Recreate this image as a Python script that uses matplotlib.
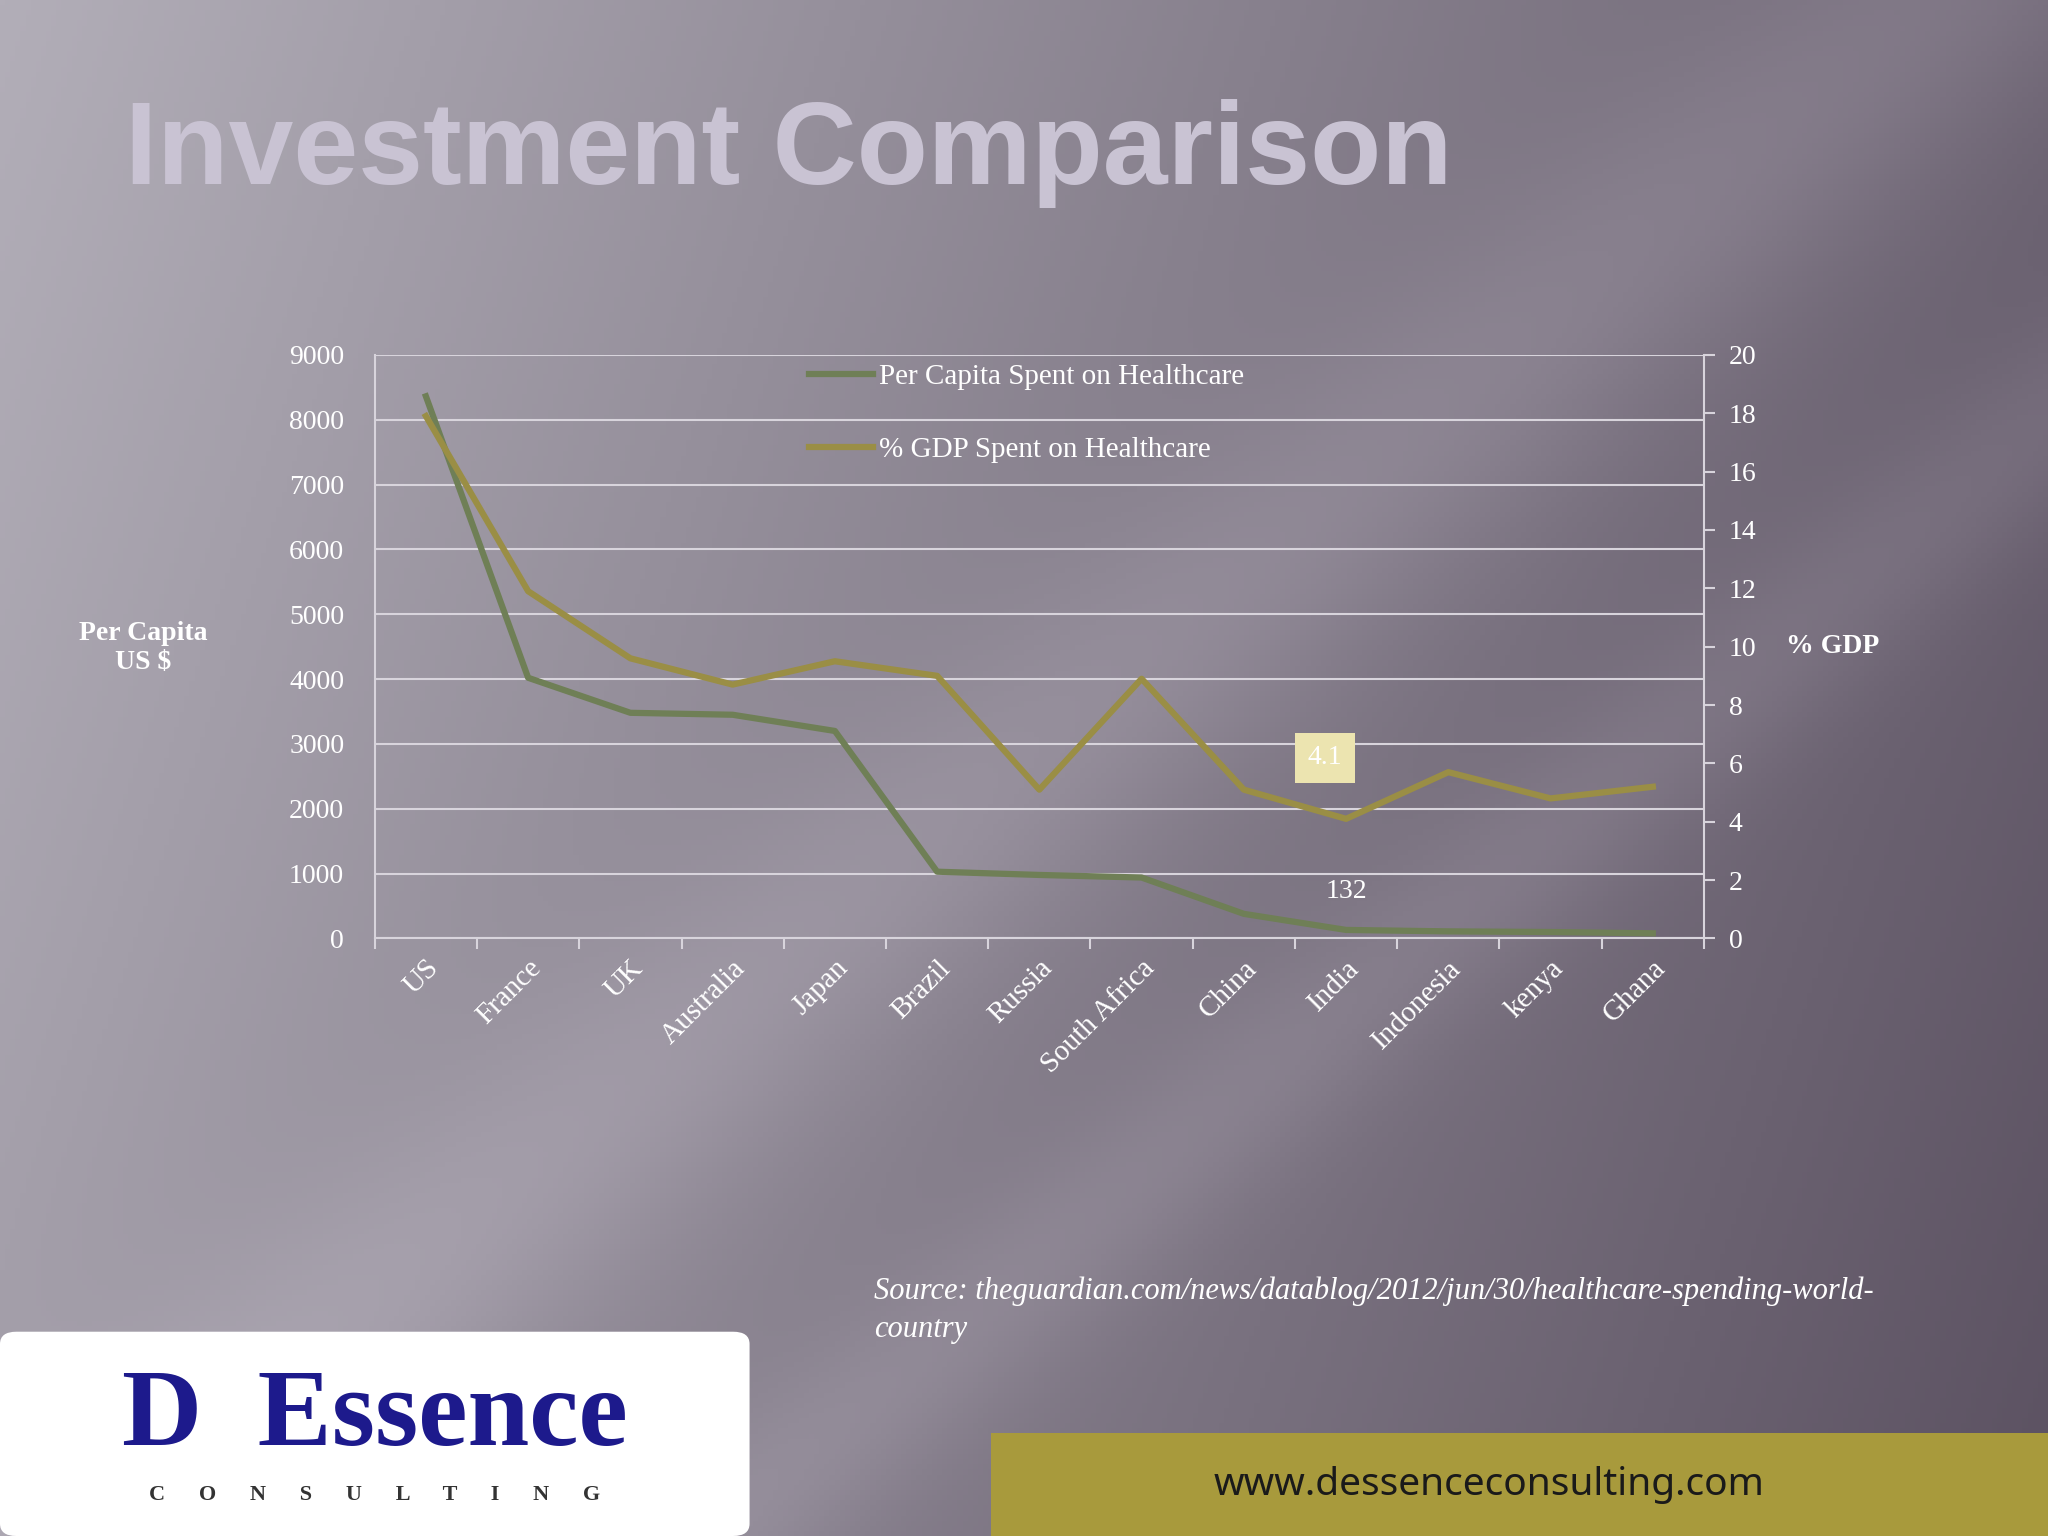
import numpy as np
import matplotlib
matplotlib.use("Agg")
import matplotlib.pyplot as plt
from matplotlib.patches import FancyBboxPatch, Rectangle

countries = ["US", "France", "UK", "Australia", "Japan", "Brazil", "Russia",
             "South Africa", "China", "India", "Indonesia", "kenya", "Ghana"]
per_capita = [8360, 4020, 3480, 3450, 3200, 1030, 980, 940, 380, 132, 110, 100, 80]
pct_gdp = [17.9, 11.9, 9.6, 8.7, 9.5, 9.0, 5.1, 8.9, 5.1, 4.1, 5.7, 4.8, 5.2]

fig = plt.figure(figsize=(20.48, 15.36), dpi=100)

bg = fig.add_axes([0, 0, 1, 1], zorder=-10)
bg.axis("off")
yy, xx = np.mgrid[0:1:300j, 0:1:400j]
t = np.clip(0.8 * xx + 0.2 * yy, 0, 1)
light = np.array([178, 174, 184]) / 255
dark = np.array([92, 82, 98]) / 255
img = light[None, None, :] * (1 - t[..., None]) + dark[None, None, :] * t[..., None]
ray = 0.06 * np.exp(-((xx - (1 - yy) * 0.9 - 0.05) ** 2) / 0.01)
ray += 0.05 * np.exp(-((xx - (1 - yy) * 0.9 - 0.35) ** 2) / 0.004)
img = np.clip(img + ray[..., None], 0, 1)
bg.imshow(img, extent=[0, 1, 0, 1], aspect="auto", origin="upper")
bg.set_xlim(0, 1); bg.set_ylim(0, 1)

fig.text(0.061, 0.900, "Investment Comparison", fontsize=84, fontweight="bold",
         color="#C9C3D3", va="center", ha="left", family="Liberation Sans")

serif = "Liberation Serif"
ax = fig.add_axes([0.183, 0.389, 0.649, 0.380])
ax.patch.set_alpha(0)
x = np.arange(len(countries))
green = "#6F7F56"
gold = "#9A8E45"
l1, = ax.plot(x, per_capita, color=green, lw=4.5, label="Per Capita Spent on Healthcare")
ax.set_ylim(0, 9000)
ax.set_xlim(-0.5, len(countries) - 0.5)
ax.set_yticks(range(0, 9001, 1000))
ax.grid(axis="y", color="#D8D4DC", lw=1.5)
ax.set_axisbelow(True)
for s in ["top", "right"]:
    ax.spines[s].set_visible(False)
ax.spines["left"].set_color("#D8D4DC")
ax.spines["bottom"].set_color("#D8D4DC")
ax.spines["left"].set_linewidth(1.5)
ax.spines["bottom"].set_linewidth(1.5)
ax.set_xticks(np.arange(-0.5, len(countries), 1), minor=True)
ax.set_xticks(x)
ax.set_xticklabels(countries, rotation=45, ha="right", rotation_mode="anchor",
                   fontsize=21, color="white", family=serif)
ax.tick_params(axis="x", which="major", length=0, pad=12)
ax.tick_params(axis="x", which="minor", length=8, color="#D8D4DC", width=1.5)
ax.tick_params(axis="y", labelsize=20, labelcolor="white", color="#D8D4DC", length=0, pad=22)
for lab in ax.get_yticklabels():
    lab.set_family(serif)

ax2 = ax.twinx()
l2, = ax2.plot(x, pct_gdp, color=gold, lw=4.5, label="% GDP Spent on Healthcare")
ax2.set_ylim(0, 20)
ax2.set_yticks(range(0, 21, 2))
for s in ["top", "left", "bottom"]:
    ax2.spines[s].set_visible(False)
ax2.spines["right"].set_color("#D8D4DC")
ax2.spines["right"].set_linewidth(1.5)
ax2.tick_params(axis="y", labelsize=20, labelcolor="white", color="#D8D4DC", length=8, width=1.5, pad=10)
for lab in ax2.get_yticklabels():
    lab.set_family(serif)

ax2.annotate(f"{pct_gdp[9]}", (9, pct_gdp[9]), xytext=(-15, 44), textcoords="offset points",
             ha="center", va="center", fontsize=20, color="white", family=serif,
             bbox=dict(boxstyle="square,pad=0.45", fc="#ECE4B0", ec="none"))
ax.annotate(f"{per_capita[9]}", (9, per_capita[9]), xytext=(0, 28), textcoords="offset points",
            ha="center", va="center", fontsize=20, color="white", family=serif)

leg = ax.legend(handles=[l1, l2], loc="upper center", bbox_to_anchor=(0.49, 1.03),
                frameon=False, labelspacing=1.6, handlelength=2.2,
                handletextpad=0.2, prop={"family": serif, "size": 21})
for tx in leg.get_texts():
    tx.set_color("white")

fig.text(0.070, 0.578, "Per Capita\nUS $", ha="center", va="center", fontsize=20,
         fontweight="bold", color="white", family=serif, linespacing=1.2)
fig.text(0.872, 0.579, "% GDP", ha="left", va="center", fontsize=20,
         fontweight="bold", color="white", family=serif)

fig.text(0.427, 0.147, "Source: theguardian.com/news/datablog/2012/jun/30/healthcare-spending-world-\ncountry",
         ha="left", va="center", fontsize=22, style="italic", color="white", family=serif,
         linespacing=1.4)

fig.patches.append(Rectangle((0.484, 0), 0.516, 0.067, transform=fig.transFigure,
                             fc="#A89A3C", ec="none"))
fig.text(0.727, 0.033, "www.dessenceconsulting.com", ha="center", va="center",
         fontsize=28, color="#1A1A1A", family="Noto Sans")

fig.patches.append(FancyBboxPatch((0.0, 0.0), 0.366, 0.133, boxstyle="round,pad=0,rounding_size=0.008",
                                  transform=fig.transFigure, fc="white", ec="none"))
fig.text(0.183, 0.077, "D  Essence", ha="center", va="center", fontsize=80, fontweight="bold",
         color="#1D1A8C", family="Liberation Serif")
fig.text(0.183, 0.027, "C      O      N      S      U      L      T      I      N      G", ha="center",
         va="center", fontsize=16, fontweight="bold", color="#333333", family="Liberation Serif")

fig.savefig("out.png", dpi=100)
